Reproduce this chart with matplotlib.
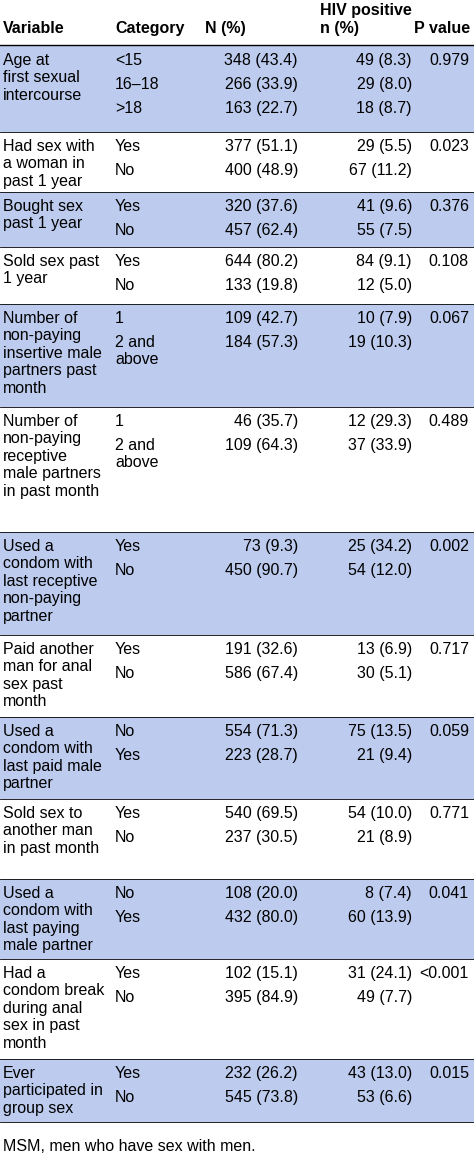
import matplotlib
matplotlib.use("Agg")
import matplotlib.pyplot as plt
from matplotlib.patches import Rectangle

variables = [
    "Age at\nfirst sexual\nintercourse",
    "Had sex with\na woman in\npast 1 year",
    "Bought sex\npast 1 year",
    "Sold sex past\n1 year",
    "Number of\nnon-paying\ninsertive male\npartners past\nmonth",
    "Number of\nnon-paying\nreceptive\nmale partners\nin past month",
    "Used a\ncondom with\nlast receptive\nnon-paying\npartner",
    "Paid another\nman for anal\nsex past\nmonth",
    "Used a\ncondom with\nlast paid male\npartner",
    "Sold sex to\nanother man\nin past month",
    "Used a\ncondom with\nlast paying\nmale partner",
    "Had a\ncondom break\nduring anal\nsex in past\nmonth",
    "Ever\nparticipated in\ngroup sex",
]
categories = [["<15", "16\u201318", ">18"], ["Yes", "No"], ["Yes", "No"], ["Yes", "No"],
              ["1", "2 and\nabove"], ["1", "2 and\nabove"], ["Yes", "No"], ["Yes", "No"],
              ["No", "Yes"], ["Yes", "No"], ["No", "Yes"], ["Yes", "No"], ["Yes", "No"]]
n_pct = [["348 (43.4)", "266 (33.9)", "163 (22.7)"], ["377 (51.1)", "400 (48.9)"],
         ["320 (37.6)", "457 (62.4)"], ["644 (80.2)", "133 (19.8)"],
         ["109 (42.7)", "184 (57.3)"], ["46 (35.7)", "109 (64.3)"],
         ["73 (9.3)", "450 (90.7)"], ["191 (32.6)", "586 (67.4)"],
         ["554 (71.3)", "223 (28.7)"], ["540 (69.5)", "237 (30.5)"],
         ["108 (20.0)", "432 (80.0)"], ["102 (15.1)", "395 (84.9)"],
         ["232 (26.2)", "545 (73.8)"]]
hiv = [["49 (8.3)", "29 (8.0)", "18 (8.7)"], ["29 (5.5)", "67 (11.2)"],
       ["41 (9.6)", "55 (7.5)"], ["84 (9.1)", "12 (5.0)"],
       ["10 (7.9)", "19 (10.3)"], ["12 (29.3)", "37 (33.9)"],
       ["25 (34.2)", "54 (12.0)"], ["13 (6.9)", "30 (5.1)"],
       ["75 (13.5)", "21 (9.4)"], ["54 (10.0)", "21 (8.9)"],
       ["8 (7.4)", "60 (13.9)"], ["31 (24.1)", "49 (7.7)"],
       ["43 (13.0)", "53 (6.6)"]]
p_values = ["0.979", "0.023", "0.376", "0.108", "0.067", "0.489", "0.002",
            "0.717", "0.059", "0.771", "0.041", "<0.001", "0.015"]

# row-group heights in pixels (layout)
heights = [86, 60, 55, 57, 103, 125, 103, 82, 82, 80, 80, 100, 63]

W, H = 474, 1159
fig = plt.figure(figsize=(W / 100, H / 100), dpi=100)
ax = fig.add_axes([0, 0, 1, 1])
ax.set_xlim(0, W)
ax.set_ylim(H, 0)
ax.axis("off")

blue = "#bccbee"
fs = 11.5
lh = 24
font = dict(fontsize=fs, family="Liberation Sans", va="top")

# header
ax.text(3, 21, "Variable", fontweight="bold", **font)
ax.text(115, 21, "Category", fontweight="bold", **font)
ax.text(205, 21, "N (%)", fontweight="bold", **font)
ax.text(320, 3, "HIV positive", fontweight="bold", **font)
ax.text(320, 21, "n (%)", fontweight="bold", **font)
ax.text(470, 21, "P value", fontweight="bold", ha="right", **font)
ax.plot([0, W], [45, 45], color="black", lw=1)

y = 46
for i, var in enumerate(variables):
    h = heights[i]
    if i % 2 == 0:
        ax.add_patch(Rectangle((0, y), W, h, color=blue, lw=0))
    ax.text(3, y + 7, var, linespacing=1.2, **font)
    for j, cat in enumerate(categories[i]):
        yy = y + 7 + j * lh
        ax.text(115, yy, cat, linespacing=1.2, **font)
        ax.text(298, yy, n_pct[i][j], ha="right", **font)
        ax.text(412, yy, hiv[i][j], ha="right", **font)
    ax.text(469, y + 7, p_values[i], ha="right", **font)
    y += h
    ax.plot([0, W], [y, y], color="black", lw=0.6)

ax.text(3, y + 17, "MSM, men who have sex with men.", **font)
fig.savefig("out.png", dpi=100)
